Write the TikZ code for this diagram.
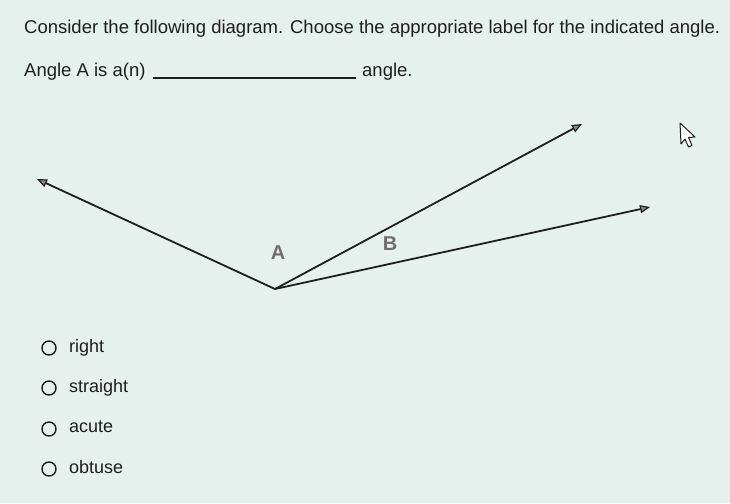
\documentclass[tikz,border=0pt]{standalone}
\usepackage{fontspec}
\setmainfont{Liberation Sans}
\usetikzlibrary{arrows.meta}
\definecolor{bgc}{HTML}{E6F0EC}
\definecolor{ink}{HTML}{1E1E1E}
\definecolor{lbl}{HTML}{6E6E6E}
\tikzset{
  txt/.style={anchor=base west, inner sep=0pt, text=ink, font=\fontsize{18.5}{20}\selectfont},
  opt/.style={anchor=base west, inner sep=0pt, text=ink, font=\fontsize{18}{20}\selectfont},
  ray/.style={draw=ink, line width=1.8pt, -{Triangle[length=10pt,width=8pt,fill=lbl!80,line width=1.2pt]}},
  radio/.style={circle, draw=ink, line width=1.4pt, minimum size=14pt, inner sep=0pt},
  ptlbl/.style={text=lbl, inner sep=0pt, font=\bfseries\fontsize{20}{22}\selectfont},
}
\begin{document}
\begin{tikzpicture}[x=1pt,y=-1pt]
\fill[bgc] (0,0) rectangle (730,503);
\useasboundingbox (0,0) rectangle (730,503);
\node[txt] (q1) at (24,34) {Consider the following diagram. Choose the appropriate label for the indicated angle.};
\node[txt] (q2) at (24,76) {Angle A is a(n)};
\coordinate (u1) at (153,78);
\coordinate (u2) at (356,78);
\draw[ink, line width=1.1pt] (u1) -- (u2);
\node[txt] (q3) at (362,76) {angle.};
% rays
\coordinate (V) at (275,289);
\coordinate (L) at (37,179);
\coordinate (U) at (582,124);
\coordinate (R) at (650,207);
\draw[ray] (V) -- (L);
\draw[ray] (V) -- (U);
\draw[ray] (V) -- (R);
\node[ptlbl] (A) at (278,253) {A};
\node[ptlbl] (B) at (390,244) {B};
% cursor
\draw[ink, line width=1pt, fill=white, line join=round]
  (680,123) -- (681,144) -- (685,139) -- (688.5,147) -- (692,145.5) -- (688.5,137.5) -- (695,137) -- cycle;
% options
\node[radio] (r1) at (49,348) {};
\node[radio] (r2) at (49,388) {};
\node[radio] (r3) at (49,429) {};
\node[radio] (r4) at (49,469) {};
\node[opt] (o1) at (69,352) {right};
\node[opt] (o2) at (69,392) {straight};
\node[opt] (o3) at (69,432) {acute};
\node[opt] (o4) at (69,473) {obtuse};
\end{tikzpicture}
\end{document}
